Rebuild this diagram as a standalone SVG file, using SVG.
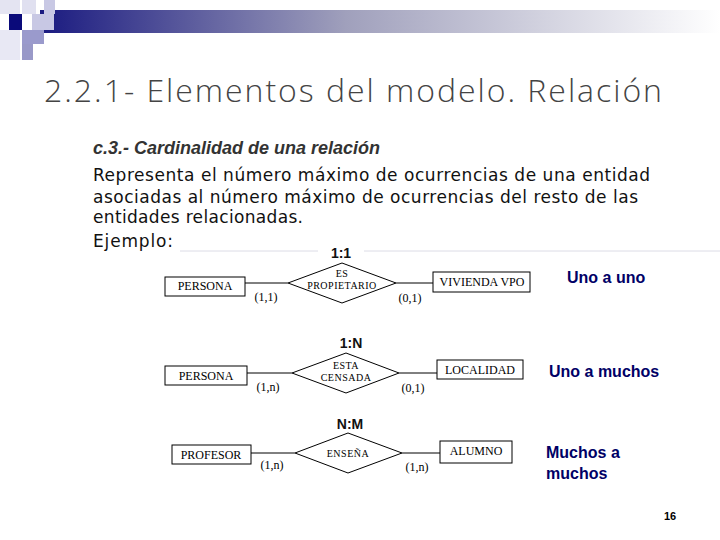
<svg xmlns="http://www.w3.org/2000/svg" width="720" height="540" viewBox="0 0 720 540">
<defs>
<linearGradient id="bar" x1="0" x2="1" y1="0" y2="0">
<stop offset="0" stop-color="#1a1a80"/><stop offset="0.45" stop-color="#a0a0bc"/><stop offset="1" stop-color="#ffffff"/>
</linearGradient>
</defs>
<style>
.ent{fill:#fff;stroke:#000;stroke-width:1}
.rel{fill:#fff;stroke:#000;stroke-width:1}
.con line{stroke:#000;stroke-width:1}
.st{font-family:"Liberation Serif",serif;font-size:12px;fill:#000}
.sm{font-family:"Liberation Serif",serif;font-size:10px;fill:#000;letter-spacing:0.5px}
.card{font-family:"Liberation Serif",serif;font-size:12px;fill:#000}
.hd{font-family:"Liberation Sans",Arial,sans-serif;font-size:14px;font-weight:bold;fill:#111}
.lab{font-family:"Liberation Sans",Arial,sans-serif;font-size:16px;font-weight:bold;fill:#000066}
.body{font-family:"DejaVu Sans",sans-serif;font-size:17px;fill:#111}
</style>
<rect x="40" y="10" width="680" height="23" fill="url(#bar)"/>
<rect x="0" y="0" width="20" height="14" fill="#e4e4f2"/>
<rect x="22" y="0" width="14" height="14" fill="#e0e0f0"/>
<rect x="44" y="0" width="11" height="14" fill="#c8c8e4"/>
<rect x="9" y="14" width="13" height="16" fill="#0a0a7a"/>
<rect x="32" y="14" width="22" height="16" fill="#c8c8e4"/>
<rect x="22" y="30" width="22" height="14" fill="#9a9acc"/>
<rect x="0" y="30" width="20" height="30" fill="#e8e8f4"/>
<rect x="22" y="44" width="11" height="16" fill="#9999c8"/>
<text x="44" y="102" font-family="Open Sans,DejaVu Sans,sans-serif" font-weight="300" font-size="32" fill="#444" textLength="618">2.2.1- Elementos del modelo. Relación</text>
<text x="93" y="154" font-family="Liberation Sans,Arial,sans-serif" font-size="18" font-style="italic" font-weight="bold" fill="#333">c.3.- Cardinalidad de una relación</text>
<text class="body" x="93" y="181" textLength="557">Representa el número máximo de ocurrencias de una entidad</text>
<text class="body" x="93" y="203" textLength="545">asociadas al número máximo de ocurrencias del resto de las</text>
<text class="body" x="93" y="223" textLength="210">entidades relacionadas.</text>
<text class="body" x="93" y="247" textLength="80">Ejemplo:</text>
<line x1="180" y1="251" x2="720" y2="251" stroke="#dcdce6" stroke-width="1"/>
<rect x="318" y="243" width="46" height="18" fill="#fff"/>
<text class="hd" x="341" y="258" text-anchor="middle">1:1</text>
<text class="hd" x="351" y="348" text-anchor="middle">1:N</text>
<text class="hd" x="350" y="429" text-anchor="middle">N:M</text>
<g class="con">
<line x1="245" y1="283" x2="288" y2="283"/><line x1="396" y1="283" x2="433" y2="283"/>
<line x1="247" y1="373" x2="292" y2="373"/><line x1="399" y1="373" x2="437" y2="373"/>
<line x1="251" y1="453" x2="295" y2="453"/><line x1="402" y1="453" x2="440" y2="453"/>
</g>
<g id="persona1"><rect class="ent" x="165" y="277" width="80" height="19"/><text class="st" x="205" y="290" text-anchor="middle">PERSONA</text></g>
<g id="esprop"><polygon class="rel" points="288,283 342,263 396,283 342,303"/><text class="sm" x="342" y="277" text-anchor="middle">ES</text><text class="sm" x="342" y="289" text-anchor="middle">PROPIETARIO</text></g>
<g id="vivienda"><rect class="ent" x="433" y="272" width="97" height="20"/><text class="st" x="482" y="286" text-anchor="middle">VIVIENDA VPO</text></g>
<text class="card" x="266" y="301" text-anchor="middle">(1,1)</text>
<text class="card" x="410" y="302" text-anchor="middle">(0,1)</text>
<g id="persona2"><rect class="ent" x="165" y="366" width="82" height="19"/><text class="st" x="206" y="380" text-anchor="middle">PERSONA</text></g>
<g id="estacens"><polygon class="rel" points="292,373 346,353 399,373 346,393"/><text class="sm" x="346" y="369" text-anchor="middle">ESTA</text><text class="sm" x="346" y="381" text-anchor="middle">CENSADA</text></g>
<g id="localidad"><rect class="ent" x="437" y="360" width="86" height="19"/><text class="st" x="480" y="374" text-anchor="middle">LOCALIDAD</text></g>
<text class="card" x="268" y="391" text-anchor="middle">(1,n)</text>
<text class="card" x="413" y="392" text-anchor="middle">(0,1)</text>
<g id="profesor"><rect class="ent" x="172" y="445" width="79" height="19"/><text class="st" x="211" y="459" text-anchor="middle">PROFESOR</text></g>
<g id="ensena"><polygon class="rel" points="295,453 348,433 402,453 348,473"/><text class="sm" x="348" y="457" text-anchor="middle">ENSEÑA</text></g>
<g id="alumno"><rect class="ent" x="440" y="441" width="72" height="22"/><text class="st" x="476" y="455" text-anchor="middle">ALUMNO</text></g>
<text class="card" x="272" y="469" text-anchor="middle">(1,n)</text>
<text class="card" x="417" y="471" text-anchor="middle">(1,n)</text>
<text class="lab" x="567" y="283">Uno a uno</text>
<text class="lab" x="549" y="377">Uno a muchos</text>
<text class="lab" x="546" y="458">Muchos  a</text>
<text class="lab" x="546" y="479">muchos</text>
<text x="670" y="520" text-anchor="middle" font-family="Liberation Sans,Arial,sans-serif" font-size="11" font-weight="bold" fill="#000">16</text>
</svg>
